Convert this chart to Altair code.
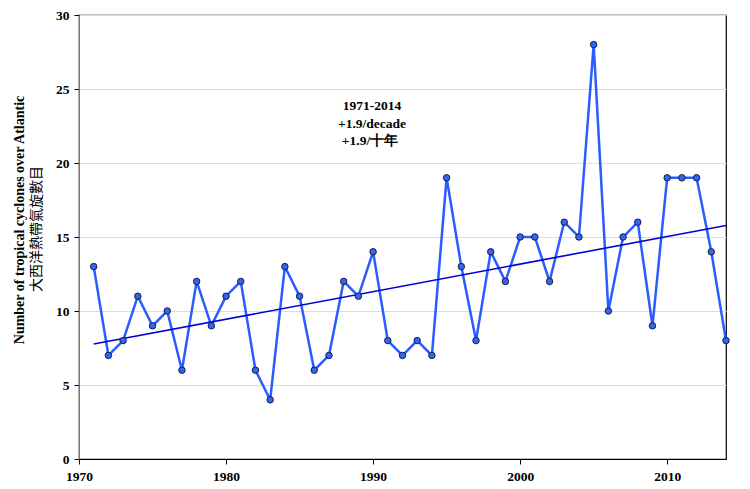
import altair as alt
import pandas as pd

years = list(range(1971, 2015))
counts = [13, 7, 8, 11, 9, 10, 6, 12, 9, 11,
          12, 6, 4, 13, 11, 6, 7, 12, 11, 14,
          8, 7, 8, 7, 19, 13, 8, 14, 12, 15,
          15, 12, 16, 15, 28, 10, 15, 16, 9, 19,
          19, 19, 14, 8]

x_ticks = [1970, 1980, 1990, 2000, 2010]
y_ticks = [0, 5, 10, 15, 20, 25, 30]
title_en = "Number of tropical cyclones over Atlantic"
title_zh = "大西洋熱帶氣旋數目"
note_lines = ["1971-2014", "+1.9/decade", "+1.9/十年"]

df = pd.DataFrame({"year": years, "count": counts})

SERIF = "Liberation Serif"

x_enc = alt.X("year:Q",
              scale=alt.Scale(domain=[1970, 2014], nice=False, zero=False),
              axis=alt.Axis(values=x_ticks, format="d", title=None, grid=False,
                            labelFont=SERIF, labelFontSize=13.5, labelFontWeight="bold",
                            labelColor="black", domainColor="black", tickColor="black",
                            tickSize=5, labelPadding=5, labelFlush=False))
y_enc = alt.Y("count:Q",
              scale=alt.Scale(domain=[0, 30], nice=False),
              axis=alt.Axis(values=y_ticks, title=None, grid=True, gridColor="#dddddd",
                            labelFont=SERIF, labelFontSize=13.5, labelFontWeight="bold",
                            labelColor="black", domainColor="#777777", tickColor="black",
                            tickSize=5, labelPadding=5))

base = alt.Chart(df)

line = base.mark_line(color="#2a5cff", strokeWidth=2.5).encode(x=x_enc, y=y_enc)
pts = base.mark_point(filled=True, fill="#3366ee", stroke="#1a1a4a", strokeWidth=1,
                      size=42, opacity=1).encode(x="year:Q", y="count:Q")
trend = base.transform_regression("year", "count").mark_line(
    color="#0000dd", strokeWidth=1.6).encode(x="year:Q", y="count:Q")

notes = []
for i, t in enumerate(note_lines):
    notes.append(alt.Chart(pd.DataFrame({"t": [t]})).mark_text(
        font=SERIF, fontSize=13.5, fontWeight="bold", color="black", align="center",
        baseline="middle").encode(
        text="t:N", x=alt.value(293 - (2 if i == 2 else 0)), y=alt.value(91 + 17.5 * i)))

t_en = alt.Chart(pd.DataFrame({"t": [title_en]})).mark_text(
    font=SERIF, fontSize=14, fontWeight="bold", color="black", angle=270,
    align="center", baseline="middle").encode(
    text="t:N", x=alt.value(-59), y=alt.value(205))
t_zh = alt.Chart(pd.DataFrame({"t": [title_zh]})).mark_text(
    font="Noto Sans CJK TC", fontSize=14, color="black", angle=270,
    align="center", baseline="middle").encode(
    text="t:N", x=alt.value(-42), y=alt.value(214))

chart = alt.layer(line, trend, pts, *notes, t_en, t_zh).properties(
    width=647, height=444,
    autosize=alt.AutoSizeParams(type="none"),
    padding={"left": 71, "top": 7, "right": 16, "bottom": 30},
    background="white",
).configure_view(stroke="black", strokeWidth=1.2)

chart.save("out.html", embed_options={"renderer": "svg", "actions": False})
